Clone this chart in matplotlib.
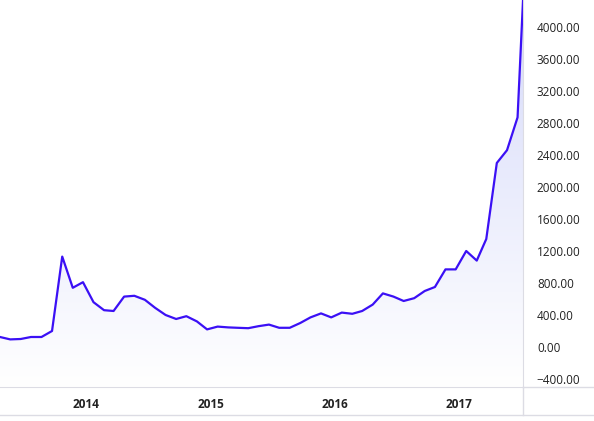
import matplotlib.pyplot as plt
import matplotlib.dates as mdates
from matplotlib.patches import Polygon
import numpy as np
import pandas as pd

plt.rcParams['font.family'] = ['Open Sans', 'DejaVu Sans']

prices = [125, 95, 100, 125, 125, 200, 1130, 740, 810, 560, 460, 450,
          630, 640, 590, 490, 400, 350, 385, 320, 220, 255, 245, 240,
          235, 260, 280, 240, 240, 300, 370, 420, 370, 430, 415, 450,
          530, 670, 630, 575, 610, 700, 750, 970, 970, 1200, 1080, 1350,
          2300, 2460, 2870]
last_price = 4330
dates = list(pd.date_range("2013-04-01", periods=len(prices), freq="MS") + pd.Timedelta(days=21))
dates.append(pd.Timestamp("2017-07-08"))
prices.append(last_price)

year_ticks = ["2014", "2015", "2016", "2017"]
y_ticks = np.arange(-400, 4001, 400)

fig = plt.figure(figsize=(5.94, 4.21), dpi=100)
ax = fig.add_axes([0, 34 / 421, 523 / 594, 387 / 421])

x = mdates.date2num(dates)
y = np.array(prices, dtype=float)
ymin, ymax = -500, 4337

# gradient fill under the line
grad = np.linspace(0, 1, 256).reshape(-1, 1)
img = ax.imshow(grad, extent=[x[0], x[-1], ymin, ymax], origin='lower', aspect='auto',
                cmap=plt.matplotlib.colors.LinearSegmentedColormap.from_list(
                    'g', ['#ffffff', '#d6dafa']), zorder=1)
poly = Polygon(np.column_stack([np.r_[x, x[-1], x[0]], np.r_[y, ymin, ymin]]),
               closed=True, facecolor='none', edgecolor='none')
ax.add_patch(poly)
img.set_clip_path(poly)

ax.plot(x, y, color='#3b10f5', lw=1.6, zorder=3)
ax.set_xlim(x[0], x[-1])
ax.set_ylim(ymin, ymax)

ax.yaxis.tick_right()
ax.set_yticks(y_ticks)
ax.set_yticklabels([f"{v:.2f}".replace('-', '\u2212') for v in y_ticks])
ax.set_xticks(mdates.date2num([pd.Timestamp(f"{t}-01-01") for t in year_ticks]))
ax.set_xticklabels(year_ticks, fontweight='bold')
ax.tick_params(length=0, labelsize=8.5, colors='#222222')
ax.tick_params(axis='y', pad=10)
ax.tick_params(axis='x', pad=8)
for s in ['top', 'left']:
    ax.spines[s].set_visible(False)
ax.spines['bottom'].set_color('#dcdce4')
ax.spines['right'].set_color('#dcdce4')

fig.add_artist(plt.Line2D([0, 1], [6 / 421, 6 / 421], color='#dcdce4', lw=1))
fig.add_artist(plt.Line2D([523 / 594, 523 / 594], [6 / 421, 34 / 421], color='#dcdce4', lw=1))
fig.add_artist(plt.Line2D([523 / 594, 1], [34 / 421, 34 / 421], color='#dcdce4', lw=1))

fig.savefig("out.png", dpi=100)
